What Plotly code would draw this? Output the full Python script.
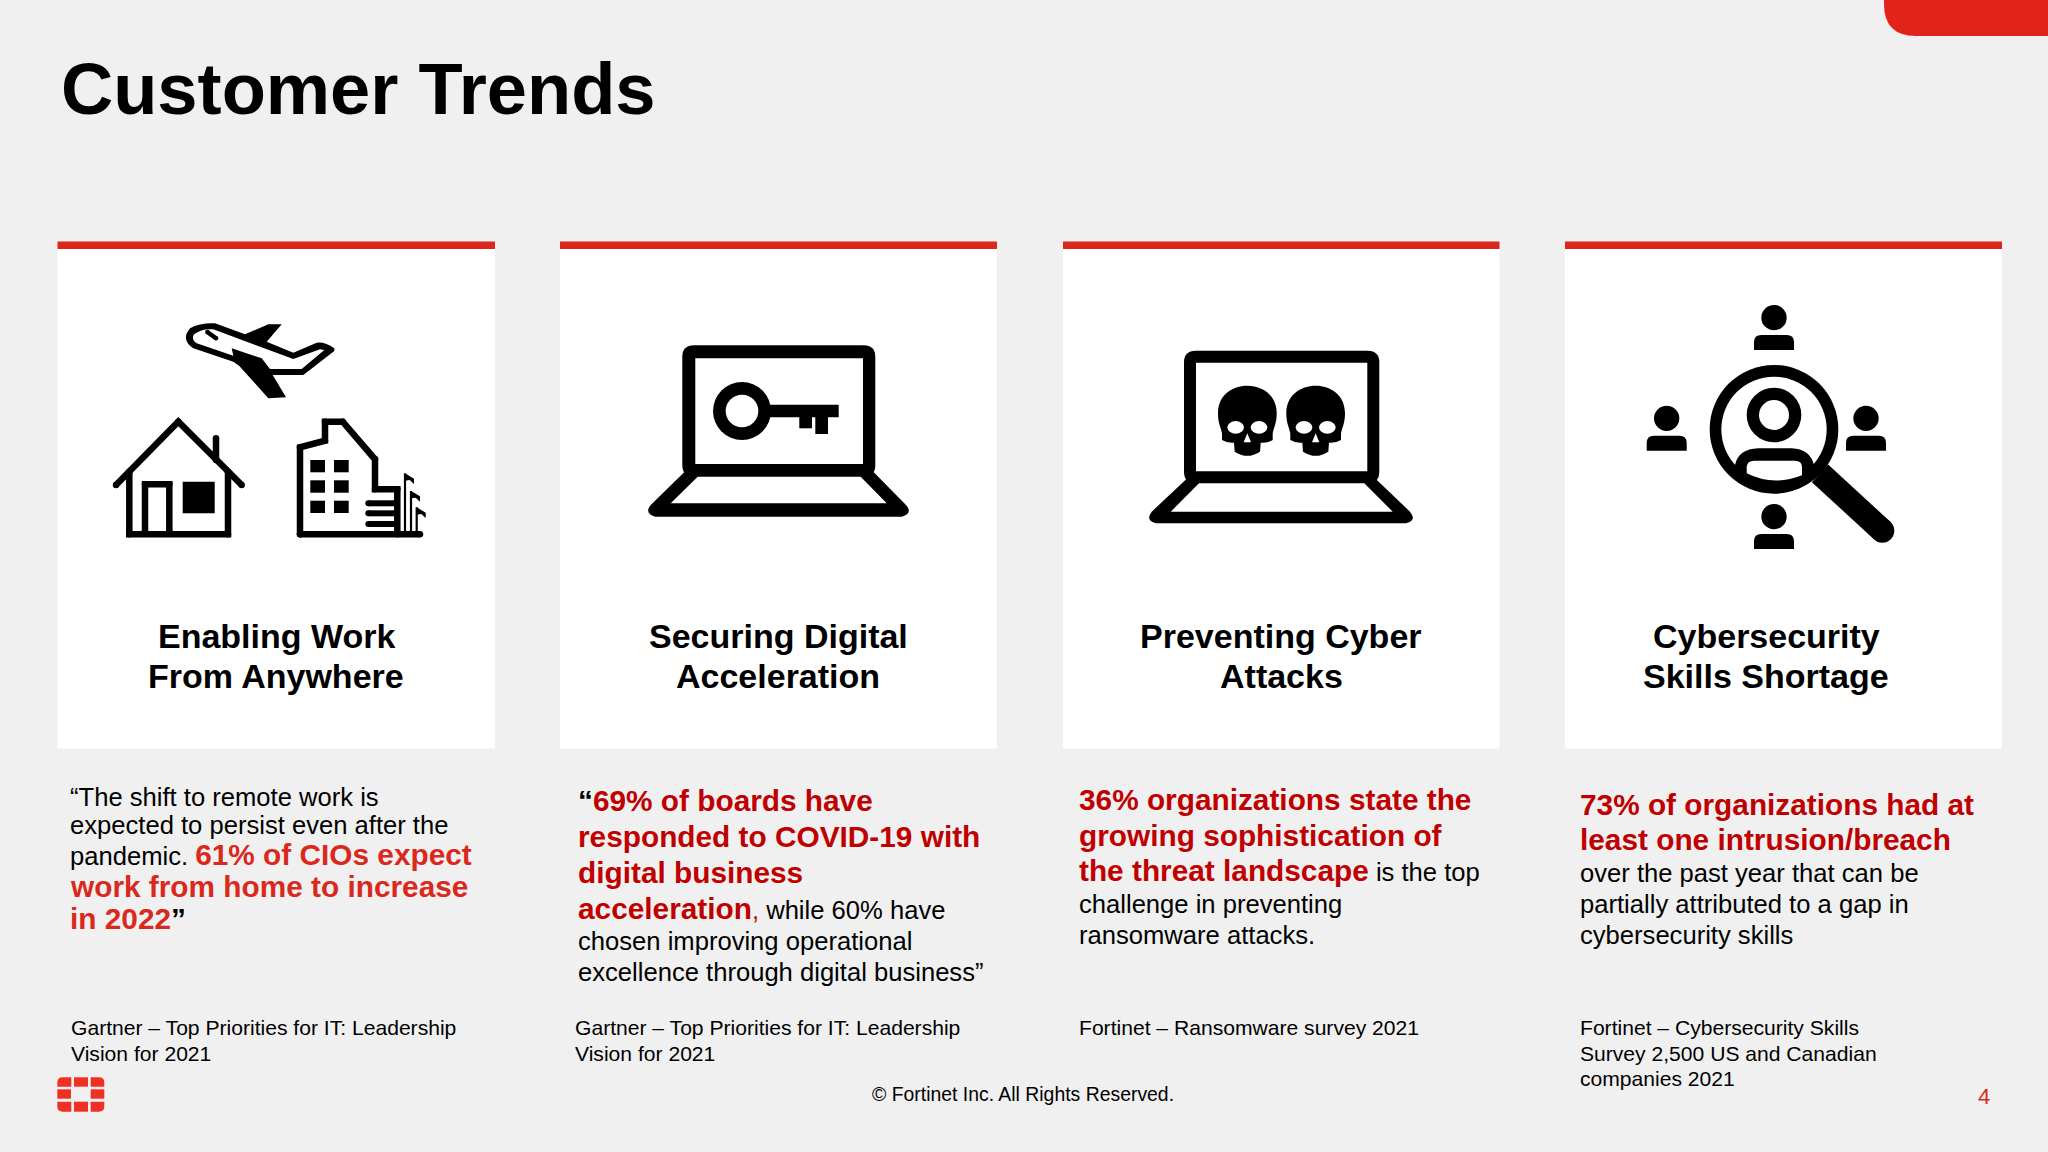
import plotly.graph_objects as go

# ---- slide text ----
title_text = "Customer Trends"
heading_lines = [
    ["Enabling Work", "From Anywhere"],
    ["Securing Digital", "Acceleration"],
    ["Preventing Cyber", "Attacks"],
    ["Cybersecurity", "Skills Shortage"],
]
# each line is a list of (text, kind) runs
body_lines = [
    [
        [("“The shift to remote work is", "n")],
        [("expected to persist even after the", "n")],
        [("pandemic. ", "n"), ("61% of CIOs expect", "r")],
        [("work from home to increase", "r")],
        [("in 2022", "r"), ("”", "b")],
    ],
    [
        [("“", "b"), ("69% of boards have", "r")],
        [("responded to COVID-19 with", "r")],
        [("digital business", "r")],
        [("acceleration", "r"), (",", "c"), (" while 60% have", "n")],
        [("chosen improving operational", "n")],
        [("excellence through digital business”", "n")],
    ],
    [
        [("36% organizations state the", "r")],
        [("growing sophistication of", "r")],
        [("the threat landscape", "r"), (" is the top", "n")],
        [("challenge in preventing", "n")],
        [("ransomware attacks.", "n")],
    ],
    [
        [("73% of organizations had at", "r")],
        [("least one intrusion/breach", "r")],
        [("over the past year that can be", "n")],
        [("partially attributed to a gap in", "n")],
        [("cybersecurity skills", "n")],
    ],
]
source_lines = [
    ["Gartner – Top Priorities for IT: Leadership", "Vision for 2021"],
    ["Gartner – Top Priorities for IT: Leadership", "Vision for 2021"],
    ["Fortinet – Ransomware survey 2021"],
    ["Fortinet – Cybersecurity Skills", "Survey 2,500 US and Canadian", "companies 2021"],
]
footer_text = "© Fortinet Inc. All Rights Reserved."
page_text = "4"

# ---- layout ----
BG = "#f0f0f0"
RED = "#da291c"
TAB_RED = "#e2231a"
INK = "#000000"
FONT = "Liberation Sans"

panel_x = [(57.5, 495), (560, 997), (1063, 1499.5), (1565, 2002)]
heading_x = [276, 778, 1281, 1766]
heading_y = [636, 676]
body_x = [67.5, 576, 1077, 1578]
body_red = [RED, "#c00000", "#c00000", "#c00000"]
body_y = [
    [797, 825, 854, 886, 918],
    [800, 836, 872, 908, 941, 972],
    [799, 835, 870, 904, 935],
    [804, 839, 873, 904, 935],
]
source_x = [68.5, 573, 1077, 1578]
source_y = [1027, 1053, 1078]

shapes = []
notes = []


def rect(x0, y0, x1, y1, color):
    shapes.append(dict(type="rect", x0=x0, y0=y0, x1=x1, y1=y1,
                       fillcolor=color, line_width=0))


def circle(cx, cy, r, color):
    shapes.append(dict(type="circle", x0=cx - r, y0=cy - r, x1=cx + r, y1=cy + r,
                       fillcolor=color, line_width=0))


def fill_path(d, color):
    shapes.append(dict(type="path", path=d, fillcolor=color, line_width=0))


def zoomed(ox, oy):
    # the icons were measured on 3x crops, so map crop coords to the slide
    return lambda x, y: (ox + x / 3, oy + y / 3)


def poly(pts, to, color):
    d = ""
    for i, p in enumerate(pts):
        x, y = to(*p)
        d += ("M" if i == 0 else "L") + f"{x:.1f},{y:.1f} "
    fill_path(d + "Z", color)


def curve(segs, to, color):
    # segs: ("M"/"L", x, y) or ("Q", cx, cy, x, y) or ("C", c1x, c1y, c2x, c2y, x, y)
    d = ""
    for s in segs:
        nums = []
        for i in range(1, len(s), 2):
            x, y = to(s[i], s[i + 1])
            nums.append(f"{x:.1f},{y:.1f}")
        d += s[0] + " ".join(nums) + " "
    fill_path(d + "Z", color)


def stroke(pts, to, w, color=INK, caps=True):
    d = ""
    conv = [to(*p) for p in pts]
    for i, (x, y) in enumerate(conv):
        d += ("M" if i == 0 else "L") + f"{x:.1f},{y:.1f} "
    shapes.append(dict(type="path", path=d, line=dict(color=color, width=w)))
    if caps:
        for x, y in conv:
            circle(x, y, w / 2, color)


def rounded(x0, y0, x1, y1, r):
    return [("M", x0 + r, y0), ("L", x1 - r, y0), ("Q", x1, y0, x1, y0 + r),
            ("L", x1, y1 - r), ("Q", x1, y1, x1 - r, y1), ("L", x0 + r, y1),
            ("Q", x0, y1, x0, y1 - r), ("L", x0, y0 + r), ("Q", x0, y0, x0 + r, y0)]


def laptop(to, screen, hole, base_outer, base_inner):
    curve(rounded(*screen, 35), to, INK)
    poly([(hole[0], hole[1]), (hole[2], hole[1]), (hole[2], hole[3]), (hole[0], hole[3])], to, "#ffffff")
    curve(base_outer, to, INK)
    poly(base_inner, to, "#ffffff")


def person(to, cx, cy):
    hx, hy = to(cx, cy)
    circle(hx, hy, 38 / 3, INK)
    y0, y1 = cy + 52, cy + 97
    curve([("M", cx - 60, y1), ("L", cx - 60, y0 + 22), ("Q", cx - 60, y0, cx - 38, y0),
           ("L", cx + 38, y0), ("Q", cx + 60, y0, cx + 60, y0 + 22), ("L", cx + 60, y1)], to, INK)


def skull(to, cx):
    curve([("M", cx - 88, 250), ("C", cx - 88, 195, cx - 45, 167, cx, 167),
           ("C", cx + 45, 167, cx + 88, 195, cx + 88, 250),
           ("C", cx + 88, 280, cx + 80, 290, cx + 76, 310), ("L", cx + 76, 330),
           ("Q", cx + 60, 340, cx + 40, 338), ("L", cx + 38, 365),
           ("Q", cx, 390, cx - 38, 365), ("L", cx - 40, 338),
           ("Q", cx - 60, 340, cx - 76, 330), ("L", cx - 76, 310),
           ("C", cx - 80, 290, cx - 88, 280, cx - 88, 250)], to, INK)
    for ex in (cx - 35, cx + 35):
        x, y = to(ex, 292)
        shapes.append(dict(type="circle", x0=x - 8.3, y0=y - 6.3, x1=x + 8.3, y1=y + 6.3,
                           fillcolor="#ffffff", line_width=0))
    poly([(cx, 310), (cx + 11, 337), (cx - 11, 337)], to, "#ffffff")


def draw_remote_icon():
    to = zoomed(90, 290)
    curve([("M", 300, 115), ("Q", 330, 98, 375, 100), ("L", 465, 133), ("L", 535, 103),
           ("L", 575, 103), ("L", 530, 155), ("L", 610, 188), ("L", 680, 158),
           ("Q", 705, 155, 733, 175), ("L", 733, 183), ("L", 640, 255), ("L", 548, 255),
           ("L", 588, 322), ("L", 535, 325), ("L", 448, 228), ("L", 430, 215),
           ("L", 310, 175), ("Q", 280, 155, 290, 130)], to, INK)
    curve([("M", 312, 133), ("Q", 335, 115, 370, 118), ("L", 610, 207), ("L", 690, 178),
           ("L", 703, 180), ("L", 635, 237), ("L", 540, 237), ("L", 515, 205), ("L", 425, 175),
           ("L", 430, 197), ("L", 320, 160), ("Q", 303, 148, 312, 133)], to, "#ffffff")
    stroke([(352, 126), (378, 145)], to, 4.5)
    # house
    stroke([(78, 585), (265, 395), (455, 585)], to, 6.5)
    stroke([(378, 445), (378, 510)], to, 6.5)
    stroke([(118, 545), (118, 733), (414, 733), (414, 545)], to, 6.5)
    stroke([(165, 725), (165, 583), (238, 583), (238, 725)], to, 6.5)
    poly([(278, 575), (374, 575), (374, 670), (278, 670)], to, INK)
    # office block
    stroke([(630, 733), (630, 472), (705, 452), (705, 395), (758, 395), (855, 508),
            (855, 598), (922, 598), (922, 733)], to, 6.5)
    stroke([(630, 733), (990, 733)], to, 6.5)
    for wx in (661, 732):
        for wy in (510, 571, 632):
            poly([(wx, wy), (wx + 44, wy), (wx + 44, wy + 37), (wx, wy + 37)], to, INK)
    for sy in (640, 670, 702):
        stroke([(835, sy), (915, sy)], to, 6)
    for fx, fy in ((945, 550), (963, 603), (980, 652)):
        stroke([(fx, fy), (fx, 728)], to, 2.2, caps=False)
        poly([(fx, fy), (fx + 27, fy + 16), (fx + 27, fy + 32), (fx + 14, fy + 20), (fx, fy + 22)], to, INK)


def draw_key_icon():
    to = zoomed(620, 320)
    laptop(to, (187, 76, 766, 470), (226, 115, 729, 432),
           [("M", 197, 452), ("L", 92, 555), ("Q", 72, 580, 105, 590), ("L", 845, 590),
            ("Q", 880, 580, 858, 555), ("L", 757, 452)],
           [(233, 470), (722, 470), (800, 550), (152, 550)])
    x, y = to(366, 273)
    circle(x, y, 87 / 3, INK)
    circle(x, y, 49 / 3, "#ffffff")
    poly([(445, 254), (656, 254), (656, 292), (445, 292)], to, INK)
    poly([(538, 290), (576, 290), (576, 325), (538, 325)], to, INK)
    poly([(586, 290), (624, 290), (624, 342), (586, 342)], to, INK)


def draw_skull_icon():
    to = zoomed(1130, 330)
    laptop(to, (162, 62, 748, 460), (198, 98, 712, 424),
           [("M", 172, 445), ("L", 65, 545), ("Q", 45, 572, 78, 580), ("L", 828, 580),
            ("Q", 862, 572, 840, 545), ("L", 735, 445)],
           [(207, 460), (703, 460), (788, 545), (122, 545)])
    skull(to, 352)
    skull(to, 557)


def draw_skills_icon():
    to = zoomed(1630, 290)
    for cx, cy in ((432, 83), (110, 385), (708, 385), (432, 680)):
        person(to, cx, cy)
    # handle goes under the lens ring
    stroke([(570, 550), (757, 722)], to, 24, caps=False)
    x, y = to(757, 722)
    circle(x, y, 12, INK)
    x, y = to(432, 418)
    circle(x, y, 193 / 3, INK)
    circle(x, y, 158 / 3, "#ffffff")
    x, y = to(432, 375)
    circle(x, y, 82 / 3, INK)
    circle(x, y, 45 / 3, "#ffffff")
    curve([("M", 315, 525), ("Q", 325, 477, 385, 475), ("L", 485, 475),
           ("Q", 540, 477, 552, 525), ("L", 530, 575), ("Q", 430, 605, 335, 565)], to, INK)
    curve([("M", 350, 530), ("Q", 352, 512, 372, 512), ("L", 495, 512),
           ("Q", 515, 512, 516, 530), ("L", 516, 556), ("Q", 430, 590, 350, 550)], to, "#ffffff")


def draw_logo():
    to = zoomed(40, 1060)
    col = "#ee3124"
    curve([("M", 52, 80), ("L", 52, 68), ("Q", 52, 52, 68, 52), ("L", 94, 52), ("L", 94, 80)], to, col)
    poly([(102, 52), (144, 52), (144, 80), (102, 80)], to, col)
    curve([("M", 152, 52), ("L", 177, 52), ("Q", 193, 52, 193, 68), ("L", 193, 80), ("L", 152, 80)], to, col)
    poly([(52, 88), (93, 88), (93, 116), (52, 116)], to, col)
    poly([(152, 88), (193, 88), (193, 116), (152, 116)], to, col)
    curve([("M", 52, 125), ("L", 94, 125), ("L", 94, 155), ("L", 68, 155), ("Q", 52, 155, 52, 139)], to, col)
    poly([(102, 125), (144, 125), (144, 155), (102, 155)], to, col)
    curve([("M", 152, 125), ("L", 193, 125), ("L", 193, 139), ("Q", 193, 155, 177, 155), ("L", 152, 155)], to, col)


def note(x, y, text, size, color=INK, anchor="left"):
    notes.append(dict(x=x, y=y, text=text, showarrow=False, xanchor=anchor, yanchor="middle",
                      align=anchor, font=dict(family=FONT, size=size, color=color)))


def run_html(runs, red):
    out = ""
    for text, kind in runs:
        if kind == "r":
            out += f'<span style="color:{red};font-size:29.8px"><b>{text}</b></span>'
        elif kind == "b":
            out += f'<span style="color:{INK};font-size:29.8px"><b>{text}</b></span>'
        elif kind == "c":
            out += f'<span style="color:{red}">{text}</span>'
        else:
            out += text
    return out


# corner tab, top right
curve([("M", 1884, 0), ("L", 2048, 0), ("L", 2048, 36), ("L", 1916, 36), ("Q", 1884, 36, 1884, 4)],
      lambda x, y: (x, y), TAB_RED)

for (x0, x1) in panel_x:
    rect(x0, 249, x1, 748.5, "#ffffff")
    rect(x0, 241.5, x1, 249, RED)

draw_remote_icon()
draw_key_icon()
draw_skull_icon()
draw_skills_icon()
draw_logo()

note(58.5, 89, f"<b>{title_text}</b>", 72.3)
for lines, hx in zip(heading_lines, heading_x):
    for line, hy in zip(lines, heading_y):
        note(hx, hy, f"<b>{line}</b>", 34, anchor="center")
for i, lines in enumerate(body_lines):
    for runs, by in zip(lines, body_y[i]):
        note(body_x[i], by, run_html(runs, body_red[i]), 25.6)
for lines, sx in zip(source_lines, source_x):
    for line, sy in zip(lines, source_y):
        note(sx, sy, line, 21.1)
note(1023, 1094, footer_text, 19.4, anchor="center")
note(1984, 1096, page_text, 22, color=RED, anchor="center")

fig = go.Figure()
fig.update_layout(
    width=2048, height=1152,
    margin=dict(l=0, r=0, t=0, b=0),
    paper_bgcolor=BG, plot_bgcolor=BG,
    xaxis=dict(range=[0, 2048], visible=False, fixedrange=True),
    yaxis=dict(range=[1152, 0], visible=False, fixedrange=True),
    shapes=shapes, annotations=notes, showlegend=False,
)
# plotly leaves the browser's default body margin in place
fig.write_html("out.html", config={"displayModeBar": False},
               post_script="document.body.style.margin='0';document.body.style.overflow='hidden';")
